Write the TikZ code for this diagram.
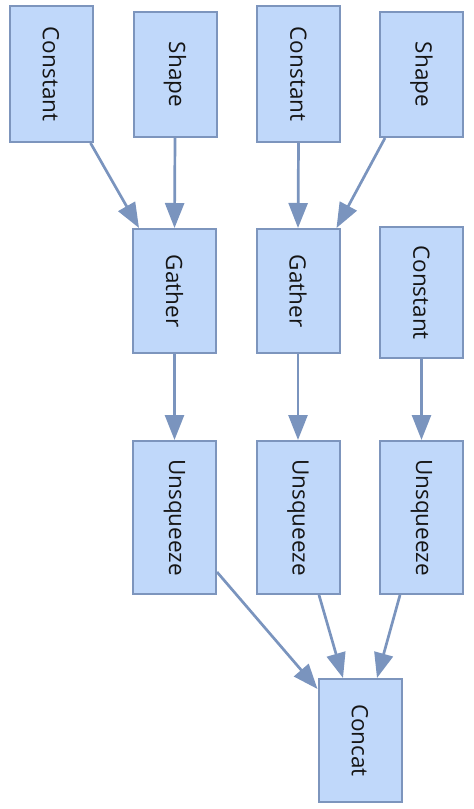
\documentclass[tikz,border=0pt]{standalone}
\usepackage{fontspec}
\setmainfont{Open Sans}
\usetikzlibrary{arrows.meta}
\definecolor{boxfill}{HTML}{C0D8FA}
\definecolor{boxline}{HTML}{7D95BD}
\definecolor{arrline}{HTML}{7A94BE}
\definecolor{txt}{HTML}{151515}
\begin{document}
\begin{tikzpicture}[x=1pt,y=-1pt,
  opbox/.style={draw=boxline, fill=boxfill, line width=2pt, minimum width=83pt,
    inner sep=0pt, text=txt, font=\fontsize{22.5}{26}\selectfont},
  flow/.style={draw=arrline, line width=2.7pt,
    -{Triangle[length=25pt,width=19pt,fill=arrline]}}]
\useasboundingbox (0,0) rectangle (474,809);
\node[opbox, minimum height=136pt] (c1) at (51,74) {\rotatebox{-90}{Constant}};
\node[opbox, minimum height=125pt] (s1) at (175,74.5) {\rotatebox{-90}{Shape}};
\node[opbox, minimum height=136pt] (c2) at (298.5,74) {\rotatebox{-90}{Constant}};
\node[opbox, minimum height=125pt] (s2) at (421.5,74.5) {\rotatebox{-90}{Shape}};
\node[opbox, minimum height=124pt] (g1) at (174.5,291) {\rotatebox{-90}{Gather}};
\node[opbox, minimum height=124pt] (g2) at (298,291) {\rotatebox{-90}{Gather}};
\node[opbox, minimum height=131pt] (c3) at (421.5,292.5) {\rotatebox{-90}{Constant}};
\node[opbox, minimum height=153pt] (u1) at (174.5,517.5) {\rotatebox{-90}{Unsqueeze}};
\node[opbox, minimum height=153pt] (u2) at (298,517.5) {\rotatebox{-90}{Unsqueeze}};
\node[opbox, minimum height=153pt] (u3) at (421.5,517.5) {\rotatebox{-90}{Unsqueeze}};
\node[opbox, minimum height=123pt] (cc) at (360,740.5) {\rotatebox{-90}{Concat}};
\draw[flow] ([xshift=-3pt]c1.south east) -- ([xshift=7pt]g1.north west);
\draw[flow] (s1.south) -- (g1.north);
\draw[flow] (c2.south) -- (g2.north);
\draw[flow] ([xshift=6pt]s2.south west) -- ([xshift=-4pt]g2.north east);
\draw[flow] (g1.south) -- (u1.north);
\draw[flow] (g2.south) -- (u2.north);
\draw[flow] (c3.south) -- (u3.north);
\draw[flow] ([yshift=23pt]u1.south east) -- ([yshift=-11pt]cc.north west);
\draw[flow] ([xshift=21pt]u2.south) -- ([xshift=-17pt]cc.north);
\draw[flow] ([xshift=-21.5pt]u3.south) -- ([xshift=17pt]cc.north);
\end{tikzpicture}
\end{document}
